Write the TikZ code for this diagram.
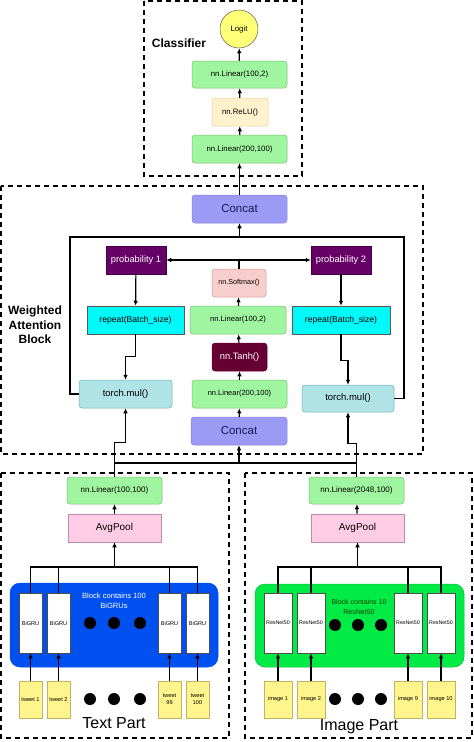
\documentclass[tikz,border=0pt]{standalone}
\usepackage{fontspec}
\setmainfont{Liberation Sans}
\usetikzlibrary{positioning,fit,shapes,calc,arrows.meta}
\definecolor{lingreen}{RGB}{160,245,160}
\definecolor{linedge}{RGB}{120,190,110}
\definecolor{relufill}{RGB}{255,242,204}
\definecolor{reluedge}{RGB}{220,205,160}
\definecolor{catfill}{RGB}{155,155,245}
\definecolor{catedge}{RGB}{130,130,220}
\definecolor{cattext}{RGB}{25,25,85}
\definecolor{probfill}{RGB}{102,0,102}
\definecolor{softfill}{RGB}{248,206,204}
\definecolor{softedge}{RGB}{205,150,150}
\definecolor{repfill}{RGB}{0,250,250}
\definecolor{tanhfill}{RGB}{102,0,51}
\definecolor{mulfill}{RGB}{176,227,230}
\definecolor{muledge}{RGB}{110,175,180}
\definecolor{poolfill}{RGB}{255,204,230}
\definecolor{pooledge}{RGB}{190,140,170}
\definecolor{grublue}{RGB}{0,80,239}
\definecolor{resgreen}{RGB}{0,235,70}
\definecolor{inyellow}{RGB}{255,245,140}
\definecolor{inedge}{RGB}{190,180,100}
\definecolor{logitfill}{RGB}{255,255,120}

\begin{document}
\begin{tikzpicture}[x=1pt,y=-1pt,->,>={Latex[length=5pt,width=4.6pt]},line width=1.2pt]
\tikzstyle{every node}=[font=\fontsize{7.8}{9}\selectfont,line width=0.5pt]
\tikzstyle{box}=[rectangle,draw,minimum width=95pt,minimum height=28pt,inner sep=1pt]
\tikzstyle{lin}=[box,rounded corners=3pt,fill=lingreen,draw=linedge]
\tikzstyle{concat}=[box,rounded corners=3pt,fill=catfill,draw=catedge,text=cattext,font=\fontsize{11.5}{13}\selectfont]
\tikzstyle{prob}=[box,minimum width=60pt,fill=probfill,draw=probfill!70!black,text=white,font=\fontsize{9.3}{11}\selectfont]
\tikzstyle{rep}=[box,minimum width=97pt,fill=repfill,draw=gray!70!black,font=\fontsize{8.6}{10}\selectfont]
\tikzstyle{mul}=[box,minimum width=93pt,rounded corners=3pt,fill=mulfill,draw=muledge,font=\fontsize{9.5}{11}\selectfont]
\tikzstyle{pool}=[box,minimum width=93pt,fill=poolfill,draw=pooledge,font=\fontsize{10}{12}\selectfont]
\tikzstyle{unit}=[rectangle,draw=gray!60!black,fill=white,minimum height=60pt,inner sep=0pt,font=\fontsize{5.6}{7}\selectfont]
\tikzstyle{inbox}=[rectangle,draw=inedge,fill=inyellow,minimum height=37pt,inner sep=0pt,align=center,font=\fontsize{5.6}{7}\selectfont]
\tikzstyle{dot}=[circle,fill=black,minimum size=12pt,inner sep=0pt]
\tikzstyle{part}=[-,dashed,dash pattern=on 5pt off 4pt,line width=1.4pt]
\tikzstyle{title}=[font=\bfseries\fontsize{12}{14.5}\selectfont,align=center]
\useasboundingbox (0,0) rectangle (474,742);

% classifier
\node[circle,draw=gray!70!black,fill=logitfill,minimum size=38pt,inner sep=0pt] (logit) at (239,29) {Logit};
\node[lin,minimum height=27pt] (clslin2) at (239.5,74.5) {nn.Linear(100,2)};
\node[box,minimum width=56pt,rounded corners=3pt,fill=relufill,draw=reluedge] (relu) at (240,112) {nn.ReLU()};
\node[lin] (clslin1) at (239.5,149) {nn.Linear(200,100)};
\node[title] (clstitle) at (179,43) {Classifier};
\draw (clslin2) -- (logit);
\draw (relu) -- (clslin2);
\draw (clslin1) -- (relu);
\draw[part] (144,1) rectangle (302,176);

% weighted attention block
\node[concat] (cattop) at (239.5,209) {Concat};
\node[prob] (prob1) at (136,260) {probability 1};
\node[prob] (prob2) at (341,260) {probability 2};
\node[box,minimum width=54pt,rounded corners=3pt,fill=softfill,draw=softedge,font=\fontsize{7.2}{9}\selectfont] (softmax) at (239,283) {nn.Softmax()};
\node[rep] (rep1) at (135.5,320) {repeat(Batch\_size)};
\node[lin,minimum width=96pt,font=\fontsize{7.6}{9}\selectfont] (attlin2) at (238,320) {nn.Linear(100,2)};
\node[rep,minimum width=98pt] (rep2) at (341,320) {repeat(Batch\_size)};
\node[box,minimum width=55pt,rounded corners=3pt,fill=tanhfill,draw=tanhfill,text=white,font=\fontsize{9.3}{11}\selectfont] (tanh) at (239.5,357) {nn.Tanh()};
\node[mul] (mul1) at (125.5,394) {torch.mul()};
\node[lin,font=\fontsize{7.5}{9}\selectfont] (attlin1) at (239.5,394) {nn.Linear(200,100)};
\node[mul,minimum width=92pt,minimum height=27pt] (mul2) at (348,398.5) {torch.mul()};
\node[concat,minimum width=96pt] (catbot) at (239,431) {Concat};
\node[title] (wabtitle) at (35,325) {Weighted\\Attention\\Block};
\coordinate (loopL) at (70,237);
\coordinate (loopR) at (404,237);
\draw (catbot) -- (attlin1);
\draw (attlin1) -- (tanh);
\draw (tanh) -- (attlin2);
\draw (attlin2) -- (softmax);
\draw[-] (softmax.north) -- (softmax.north |- prob1.east);
\draw[<->] (prob1.east) -- (prob2.west);
\draw (prob1) -- (rep1);
\draw (prob2) -- (rep2);
\draw (rep1.south) -- ++(0,22) -| (mul1.north);
\draw (rep2.south) -- ++(0,26) -| (mul2.north);
\draw[-] (mul1.west) -| (loopL) -- (loopR) |- (mul2.east);
\draw (cattop.south |- loopL) -- (cattop.south);
\draw (cattop) -- (clslin1);
\draw[part] (1,186) rectangle (423,454);

% text part
\node[lin,minimum height=27pt,font=\fontsize{8}{9}\selectfont] (txtlin) at (114.5,490.5) {nn.Linear(100,100)};
\node[pool] (txtpool) at (114.5,528) {AvgPool};
\node[rectangle,rounded corners=10pt,fill=grublue,draw=grublue,minimum width=208pt,minimum height=84pt] (grublock) at (114,625) {};
\node[align=center,text=white,font=\fontsize{7.6}{10}\selectfont] (grutext) at (114,601) {Block contains 100\\BiGRUs};
\node[unit,minimum width=23pt] (gru1) at (30.5,623) {BiGRU};
\node[unit,minimum width=23pt] (gru2) at (58.5,623) {BiGRU};
\node[unit,minimum width=23pt] (gru99) at (169.5,623) {BiGRU};
\node[unit,minimum width=23pt] (gru100) at (197.5,623) {BiGRU};
\node[dot] (gdot1) at (90,623) {};
\node[dot] (gdot2) at (114,623) {};
\node[dot] (gdot3) at (140,623) {};
\node[inbox,minimum width=23pt] (tweet1) at (30.5,699.5) {tweet 1};
\node[inbox,minimum width=23pt] (tweet2) at (58.5,699.5) {tweet 2};
\node[inbox,minimum width=23pt] (tweet99) at (169.5,699.5) {tweet\\99};
\node[inbox,minimum width=23pt] (tweet100) at (197.5,699.5) {tweet\\100};
\node[dot] (tdot1) at (90,699) {};
\node[dot] (tdot2) at (114,699) {};
\node[dot] (tdot3) at (140,699) {};
\node[font=\fontsize{16}{18}\selectfont] (txtpart) at (114,723) {Text Part};
\coordinate (txttree) at (114.5,567);
\draw (tweet1) -- (gru1);
\draw (tweet2) -- (gru2);
\draw (tweet99) -- (gru99);
\draw (tweet100) -- (gru100);
\draw[-] (gru1.north) |- (txttree) -| (gru100.north);
\draw[-] (gru2.north) -- (gru2.north |- txttree);
\draw[-] (gru99.north) -- (gru99.north |- txttree);
\draw (txttree) -- (txtpool);
\draw (txtpool) -- (txtlin);
\draw[part] (1,473) rectangle (229,738);

% image part
\node[lin,minimum height=27pt,font=\fontsize{8}{9}\selectfont] (imglin) at (356.5,490.5) {nn.Linear(2048,100)};
\node[pool] (imgpool) at (357.5,528) {AvgPool};
\node[rectangle,rounded corners=10pt,fill=resgreen,draw=resgreen!80!black,minimum width=209pt,minimum height=83pt] (resblock) at (359.5,625.5) {};
\node[align=center,text=green!25!black,font=\fontsize{7}{9.5}\selectfont] (restext) at (359,607) {Block contains 10\\ResNet50};
\node[unit,minimum width=28pt,font=\fontsize{5.3}{7}\selectfont] (res1) at (278,623) {ResNet50};
\node[unit,minimum width=28pt,font=\fontsize{5.3}{7}\selectfont] (res2) at (311,623) {ResNet50};
\node[unit,minimum width=28pt,font=\fontsize{5.3}{7}\selectfont] (res9) at (408,623) {ResNet50};
\node[unit,minimum width=28pt,font=\fontsize{5.3}{7}\selectfont] (res10) at (441,623) {ResNet50};
\node[dot] (rdot1) at (335,625) {};
\node[dot] (rdot2) at (358,625) {};
\node[dot] (rdot3) at (381,625) {};
\node[inbox,minimum width=28pt] (img1) at (278,699.5) {image 1};
\node[inbox,minimum width=28pt] (img2) at (311,699.5) {image 2};
\node[inbox,minimum width=28pt] (img9) at (408,699.5) {image 9};
\node[inbox,minimum width=28pt] (img10) at (441,699.5) {image 10};
\node[dot] (idot1) at (335,699) {};
\node[dot] (idot2) at (358,699) {};
\node[dot] (idot3) at (381,699) {};
\node[font=\fontsize{16}{18}\selectfont] (imgpart) at (359,727) {Image Part};
\coordinate (imgtree) at (357.5,567);
\draw (img1) -- (res1);
\draw (img2) -- (res2);
\draw (img9) -- (res9);
\draw (img10) -- (res10);
\draw[-] (res1.north) |- (imgtree) -| (res10.north);
\draw[-] (res2.north) -- (res2.north |- imgtree);
\draw[-] (res9.north) -- (res9.north |- imgtree);
\draw (imgtree) -- (imgpool);
\draw (imgpool) -- (imglin);
\draw[part] (245,473) rectangle (472,738);

% joining the two parts
\coordinate (joinL) at (114.5,463);
\coordinate (joinR) at (356.5,463);
\draw (txtlin.north) -- ++(0,-34) -| (mul1.south);
\draw (imglin.north) -- ++(0,-33) -| (mul2.south);
\draw[-] (joinL) -- (joinR);
\draw (catbot.south |- joinL) -- (catbot.south);
\end{tikzpicture}
\end{document}
